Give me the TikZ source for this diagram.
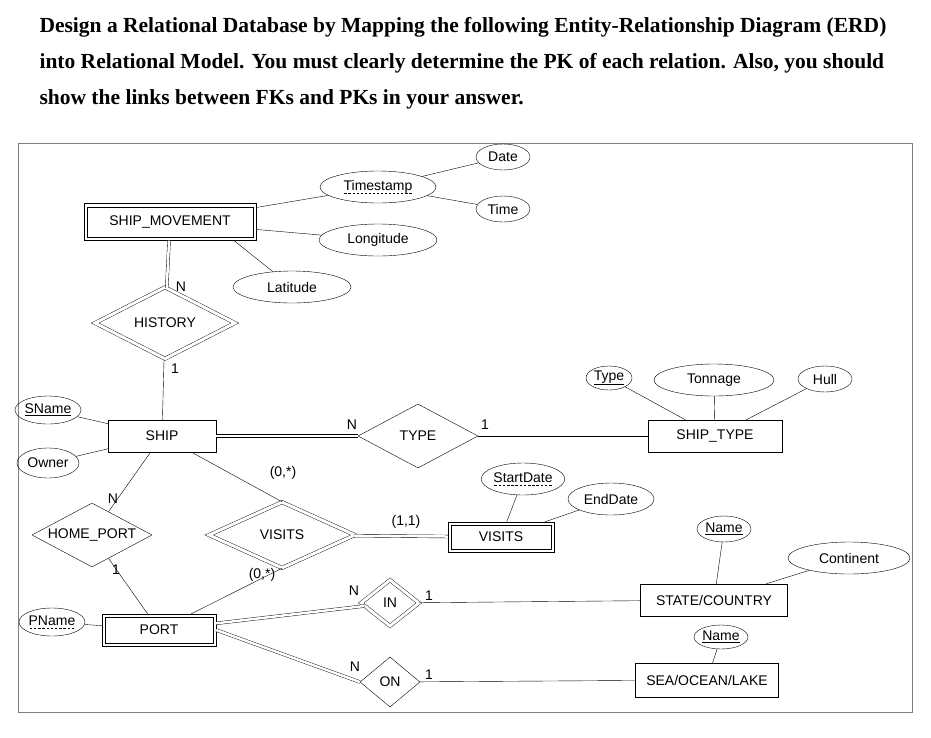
\documentclass[tikz,border=0pt]{standalone}
\usepackage{fontspec}
\setmainfont{Liberation Sans}
\newfontfamily\titlefont{Liberation Serif}
\usetikzlibrary{shapes.geometric}
\tikzset{
	entity/.style={draw, rectangle, minimum height=32, inner sep=0},
	weak/.style={draw, rectangle, minimum height=32, inner sep=0},
	rel/.style={draw, diamond, inner sep=0},
	wrel/.style={draw, diamond, inner sep=0, double, double distance=3pt},
	attr/.style={draw, ellipse, inner sep=0, minimum height=30},
	card/.style={inner sep=1pt},
	total/.style={double, double distance=2.5pt}
}
% dashed underline (partial key)
\newcommand{\dul}[1]{\setbox0\hbox{#1}\rlap{\copy0}\raisebox{-3pt}{\hbox to\wd0{\xleaders\hbox to 4pt{\hss\rule{2.5pt}{0.5pt}\hss}\hfil}}}
\begin{document}
\begin{tikzpicture}[x=1pt,y=-1pt,font=\fontsize{14}{16}\selectfont]
			\useasboundingbox (0,0) rectangle (931,737);
			
			% Question text
			\begin{scope}[font=\titlefont\bfseries\fontsize{21.5}{24}\selectfont]
				\node[anchor=west] (q1) at (36,27) {Design a Relational Database by Mapping the following Entity-Relationship Diagram (ERD)};
				\node[anchor=west] (q2) at (36,63) {into Relational Model. You must clearly determine the PK of each relation. Also, you should};
				\node[anchor=west] (q3) at (36,99) {show the links between FKs and PKs in your answer.};
			\end{scope}
			
			% Frame
			\draw[gray] (18,143) rectangle (912,712);
			
			% Entities
			\node[weak, minimum width=172, minimum height=37] (sm) at (170,222) {SHIP\_MOVEMENT};
			\node[entity, minimum width=108] (ship) at (162,436) {SHIP};
			\node[entity, minimum width=134] (stype) at (715,436) {SHIP\_TYPE};
			\node[weak, minimum width=106, minimum height=30] (vis) at (501,537) {VISITS};
			\node[weak, minimum width=114, minimum height=32] (port) at (159,630) {PORT};
			\node[entity, minimum width=147] (sc) at (714,600) {STATE/COUNTRY};
			\node[entity, minimum width=143, minimum height=34] (sea) at (707,680) {SEA/OCEAN/LAKE};
			\foreach \n in {sm,vis,port}
				\draw ([xshift=3.5pt,yshift=-3.5pt]\n.north west) rectangle ([xshift=-3.5pt,yshift=3.5pt]\n.south east);
			
			% Relationships
			\node[wrel, minimum width=140, minimum height=66] (hist) at (165,323) {HISTORY};
			\node[rel, minimum width=120, minimum height=64, label=center:TYPE] (type) at (418,436) {};
			\node[rel, minimum width=120, minimum height=64, label=center:HOME\_PORT] (hp) at (92,535) {};
			\node[wrel, minimum width=146, minimum height=66] (vd) at (282,535) {VISITS};
			\node[wrel, minimum width=58, minimum height=46, label=center:IN] (in) at (390,603) {};
			\node[rel, minimum width=60, minimum height=50, label=center:ON] (on) at (390,682) {};
			
			% Attributes
			\node[attr, minimum width=116, minimum height=32] (ts) at (378,187) {\dul{Timestamp}};
			\node[attr, minimum width=54, minimum height=26] (date) at (503,157) {Date};
			\node[attr, minimum width=54, minimum height=26] (time) at (503,209) {Time};
			\node[attr, minimum width=118, minimum height=32] (lon) at (378,240) {Longitude};
			\node[attr, minimum width=118, minimum height=32] (lat) at (292,287) {Latitude};
			\node[attr, minimum width=60, minimum height=28] (sname) at (48,410) {\underline{SName}};
			\node[attr, minimum width=62] (owner) at (48,463) {Owner};
			\node[attr, minimum width=46, minimum height=24] (tp) at (609,378) {\underline{Type}};
			\node[attr, minimum width=120, minimum height=32] (ton) at (714,380) {Tonnage};
			\node[attr, minimum width=54, minimum height=26] (hull) at (825,379) {Hull};
			\node[attr, minimum width=76, minimum height=32] (sd) at (523,479) {\dul{StartDate}};
			\node[attr, minimum width=86, minimum height=32] (ed) at (611,499) {EndDate};
			\node[attr, minimum width=60, minimum height=28] (pname) at (52,622) {\dul{PName}};
			\node[attr, minimum width=54, minimum height=26] (name1) at (724,529) {\underline{Name}};
			\node[attr, minimum width=122, minimum height=32] (cont) at (849,558) {Continent};
			\node[attr, minimum width=54, minimum height=24] (name2) at (721,637) {\underline{Name}};
			
			% Attribute links
			\draw (sm) -- (ts);
			\draw (ts) -- (date);
			\draw (ts) -- (time);
			\draw (sm) -- (lon);
			\draw (sm.south east) ++(-22,0) coordinate (smla) -- (lat);
			\draw (sname) -- (ship);
			\draw (owner) -- (ship);
			\draw (tp) -- (stype);
			\draw (ton) -- (stype);
			\draw (hull) -- (stype);
			\draw (sd) -- (vis);
			\draw (ed) -- (vis);
			\draw (pname) -- (port);
			\draw (name1) -- (sc);
			\draw (cont) -- (sc);
			\draw (name2) -- (sea);
			
			% Relationship links
			\draw[total] (sm) -- (hist);
			\draw (hist) -- (ship);
			\draw[total] (ship) -- (type);
			\draw (type) -- (stype);
			\draw (ship) -- (hp);
			\draw (hp) -- (port);
			\draw (ship) -- (vd.north);
			\draw (vd.south) -- (port);
			\draw[total] (vd) -- (vis);
			\draw[total] (port) -- (in);
			\draw (in) -- (sc);
			\draw[total] (port.east) -- (on.west);
			\draw (on) -- (sea);
			
			% Cardinalities
			\node[card] (c1) at (181,287) {N};
			\node[card] (c2) at (175,369) {1};
			\node[card] (c3) at (352,425) {N};
			\node[card] (c4) at (485,425) {1};
			\node[card] (c5) at (283,473) {(0,*)};
			\node[card] (c6) at (406,522) {(1,1)};
			\node[card] (c7) at (262,575) {(0,*)};
			\node[card] (c8) at (113,499) {N};
			\node[card] (c9) at (116,570) {1};
			\node[card] (c10) at (354,591) {N};
			\node[card] (c11) at (429,596) {1};
			\node[card] (c12) at (355,667) {N};
			\node[card] (c13) at (429,675) {1};
			
		\end{tikzpicture}
\end{document}
